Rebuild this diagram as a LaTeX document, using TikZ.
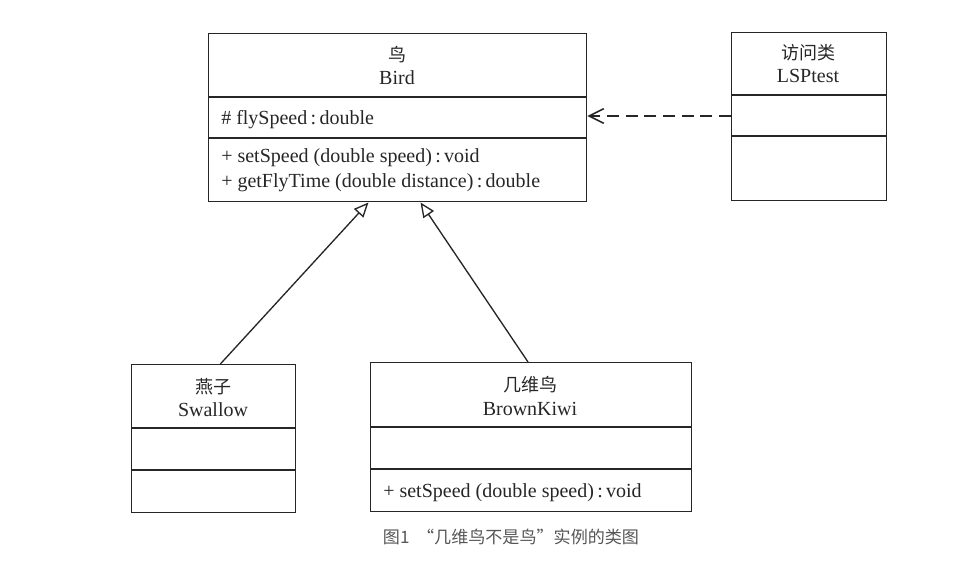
\documentclass[tikz,border=0pt]{standalone}
\usepackage{fontspec}
\setmainfont{Liberation Serif}
\newfontfamily\cjk{Noto Sans CJK SC}
\usetikzlibrary{arrows.meta,calc}
\definecolor{ink}{HTML}{262626}
\definecolor{capgray}{HTML}{555555}
\begin{document}
\begin{tikzpicture}[x=0.75pt,y=-0.75pt,
  classbox/.style={draw=ink, line width=1.1pt, anchor=north west, inner sep=0pt},
  lbl/.style={text=ink, font=\fontsize{15}{17}\selectfont, inner sep=0pt},
  zh/.style={text=ink, font=\cjk\fontsize{13.5}{16}\selectfont, inner sep=0pt},
  member/.style={lbl, anchor=west},
  divider/.style={draw=ink, line width=1.1pt},
  inherit/.style={draw=ink, line width=1pt, -{Triangle[open,length=11pt,width=9.5pt]}},
  depend/.style={draw=ink, line width=1.1pt, dash pattern=on 9pt off 5pt, -{Straight Barb[length=11pt,width=11pt]}}
]
\useasboundingbox (0,0) rectangle (966,570);
% Bird
\node[classbox, minimum width=283.5pt, minimum height=126pt] (bird) at (208,33) {};
\draw[divider] (bird.west |- 0,97) -- (bird.east |- 0,97);
\draw[divider] (bird.west |- 0,138) -- (bird.east |- 0,138);
\node[zh] (birdzh) at (397,55) {鸟};
\node[lbl] (birden) at (397,78) {Bird};
\node[member] (birdattr) at (221,120) {\# flySpeed\,:\,double};
\node[member] (birdm1) at (221,158) {+ setSpeed (double speed)\,:\,void};
\node[member] (birdm2) at (221,182.5) {+ getFlyTime (double distance)\,:\,double};
% LSPtest
\node[classbox, minimum width=116.25pt, minimum height=126pt] (lsp) at (731,32) {};
\draw[divider] (lsp.west |- 0,95) -- (lsp.east |- 0,95);
\draw[divider] (lsp.west |- 0,136) -- (lsp.east |- 0,136);
\node[zh] (lspzh) at (808,53) {访问类};
\node[lbl] (lspen) at (808,76) {LSPtest};
% Swallow
\node[classbox, minimum width=123pt, minimum height=111pt] (swallow) at (131,364) {};
\draw[divider] (swallow.west |- 0,428) -- (swallow.east |- 0,428);
\draw[divider] (swallow.west |- 0,470) -- (swallow.east |- 0,470);
\node[zh] (swzh) at (213,387) {燕子};
\node[lbl] (swen) at (213,410) {Swallow};
% BrownKiwi
\node[classbox, minimum width=240.75pt, minimum height=111.75pt] (kiwi) at (370,362) {};
\draw[divider] (kiwi.west |- 0,427) -- (kiwi.east |- 0,427);
\draw[divider] (kiwi.west |- 0,469) -- (kiwi.east |- 0,469);
\node[zh] (kwzh) at (530,385) {几维鸟};
\node[lbl] (kwen) at (530,409) {BrownKiwi};
\node[member] (kwm1) at (383,492.5) {+ setSpeed (double speed)\,:\,void};
% connectors
\coordinate (tipA) at ($(bird.south west)!0.423!(bird.south east)$);
\coordinate (tipB) at ($(bird.south west)!0.56!(bird.south east)$);
\coordinate (swtop) at ($(swallow.north west)!0.54!(swallow.north east)$);
\coordinate (kwtop) at ($(kiwi.north west)!0.49!(kiwi.north east)$);
\draw[inherit] (swtop) -- (tipA);
\draw[inherit] (kwtop) -- (tipB);
\draw[depend] (lsp.west |- 0,116) -- (bird.east |- 0,116);
% caption
\node[text=capgray, font=\cjk\fontsize{12.8}{15}\selectfont, inner sep=0pt] (cap) at (511,537) {图1\ \ “几维鸟不是鸟”实例的类图};
\end{tikzpicture}
\end{document}
